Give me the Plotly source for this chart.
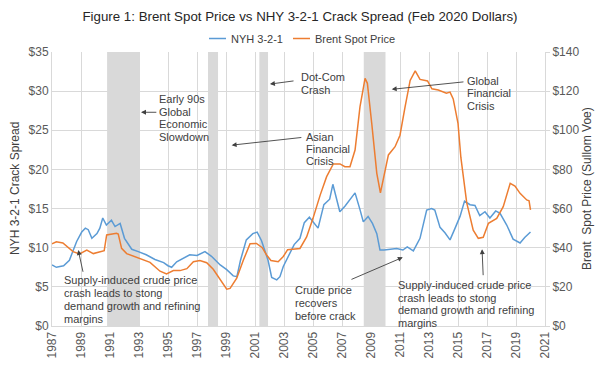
import plotly.graph_objects as go

# ---------------- data ----------------
nyh_years = [1987.0, 1987.3, 1987.8, 1988.2, 1988.7, 1989.05, 1989.3, 1989.5, 1989.75, 1990.1,
             1990.3, 1990.5, 1990.75, 1991.1, 1991.35, 1991.7, 1992.0, 1992.5, 1992.95, 1993.5,
             1994.1, 1994.7, 1995.0, 1995.25, 1995.6, 1996.05, 1996.5, 1997.0, 1997.55, 1998.0,
             1998.6, 1999.05, 1999.5, 1999.75, 2000.0, 2000.4, 2000.85, 2001.15, 2001.45, 2001.9,
             2002.15, 2002.5, 2002.72, 2002.95, 2003.35, 2003.7, 2004.1, 2004.4, 2004.75, 2005.05,
             2005.35, 2005.75, 2006.15, 2006.37, 2006.55, 2006.85, 2007.2, 2007.55, 2007.9, 2008.25,
             2008.47, 2008.8, 2009.1, 2009.4, 2009.62, 2009.9, 2010.4, 2010.77, 2011.2, 2011.5,
             2011.92, 2012.38, 2012.84, 2013.18, 2013.4, 2013.76, 2014.1, 2014.45, 2014.8, 2015.14,
             2015.45, 2015.83, 2016.17, 2016.5, 2016.86, 2017.2, 2017.6, 2017.9, 2018.36, 2018.8,
             2019.28, 2019.6, 2020.0]
nyh_values = [7.8, 7.5, 7.7, 8.4, 10.8, 12.0, 12.5, 12.3, 11.2, 11.8,
              12.5, 13.8, 12.9, 13.5, 12.7, 13.1, 11.2, 9.8, 9.5, 9.1,
              8.5, 8.1, 7.7, 7.5, 8.2, 8.6, 9.1, 9.0, 9.5, 8.9,
              7.8, 7.2, 6.4, 6.3, 8.4, 11.0, 11.8, 12.0, 10.9, 8.4,
              6.2, 5.9, 6.3, 7.6, 9.2, 10.4, 11.2, 13.2, 13.9, 13.2,
              12.5, 15.5, 16.2, 18.1, 16.9, 14.6, 15.3, 16.1, 17.0, 14.8,
              13.3, 14.0, 13.1, 11.8, 9.7, 9.7, 9.8, 9.9, 9.7, 10.1,
              9.6, 11.2, 14.8, 15.0, 14.8, 12.6, 11.9, 11.0, 12.5, 14.0,
              15.95, 15.5, 15.4, 14.1, 14.6, 13.8, 14.7, 14.4, 12.9, 11.1,
              10.6, 11.3, 12.0]

brent_years = [1987.0, 1987.3, 1987.75, 1988.45, 1988.9, 1989.4, 1989.85, 1990.3, 1990.6, 1990.77,
               1991.45, 1991.57, 1991.8, 1992.15, 1992.4, 1992.84, 1993.3, 1993.76, 1994.45, 1994.9,
               1995.37, 1995.83, 1996.3, 1996.75, 1997.2, 1997.67, 1998.12, 1998.59, 1999.05, 1999.28,
               1999.74, 2000.2, 2000.66, 2001.1, 2001.5, 2001.8, 2002.1, 2002.6, 2002.95, 2003.25,
               2004.1, 2004.56, 2005.0, 2005.5, 2005.94, 2006.4, 2006.86, 2007.2, 2007.55, 2007.9,
               2008.24, 2008.59, 2008.75, 2009.05, 2009.4, 2009.65, 2009.85, 2010.2, 2010.66, 2011.0,
               2011.35, 2011.7, 2012.05, 2012.38, 2012.9, 2013.2, 2013.64, 2014.2, 2014.45, 2014.67,
               2015.0, 2015.2, 2015.6, 2016.05, 2016.4, 2016.74, 2017.1, 2017.67, 2018.12, 2018.6,
               2018.93, 2019.28, 2019.74, 2019.9, 2020.0]
brent_values = [42, 43, 42.4, 38, 36.8, 38.8, 37, 38, 38.5, 46.5,
                47.4, 47, 39.7, 37, 36.3, 35, 33.7, 32.5, 28, 26.6,
                28.3, 28.3, 29.3, 32.8, 33.4, 32.3, 29, 23.5, 18.8, 19.2,
                24.4, 33.7, 42, 42.2, 40, 36.3, 33.5, 32.8, 35.5, 39,
                39.6, 45.5, 55, 67, 76.3, 82.8, 82.8, 81.4, 81.4, 89.9,
                112, 126.5, 124, 103.6, 78, 68, 74.6, 87.4, 91.6, 97.5,
                112, 125.5, 130.4, 126, 125.2, 121.2, 120.6, 119, 119.5, 116,
                103.6, 86, 63, 49, 44.8, 45.3, 52.5, 55, 61, 72.9,
                71.5, 67.8, 64.4, 64, 59.3]

recession_start = [1990.8, 1997.76, 2001.3, 2008.5]
recession_end = [1993.0, 1998.45, 2001.9, 2010.0]

year_ticks = list(range(1987, 2022, 2))
left_ticks = [0, 5, 10, 15, 20, 25, 30, 35]
right_ticks = [0, 20, 40, 60, 80, 100, 120, 140]
series_names = ["NYH 3-2-1", "Brent Spot Price"]

BLUE = "#5B9BD5"
ORANGE = "#ED7D31"
GRID = "#D9D9D9"
TXT = "#404040"
FONT = "Liberation Sans, Arial, sans-serif"

# plot-area geometry (pixels) for placing text
PL, PR, PT, PB = 52, 545, 52, 326


def px(x):
    return (x - PL) / (PR - PL)


def py(y):
    return (PB - y) / (PB - PT)


fig = go.Figure()
fig.add_trace(go.Scatter(x=nyh_years, y=nyh_values, mode="lines", name=series_names[0],
                         line=dict(color=BLUE, width=1.5), showlegend=False))
fig.add_trace(go.Scatter(x=brent_years, y=brent_values, mode="lines", name=series_names[1],
                         line=dict(color=ORANGE, width=1.5), yaxis="y2", showlegend=False))

for s, e in zip(recession_start, recession_end):
    fig.add_shape(type="rect", xref="x", yref="paper", x0=s, x1=e, y0=0, y1=1,
                  fillcolor=GRID, line=dict(width=0), layer="between")

annotations = []

# manual legend (short line samples, as in the reference)
LEG_Y = 38.5
for name, color, x0 in zip(series_names, [BLUE, ORANGE], [209, 293]):
    fig.add_shape(type="line", xref="paper", yref="paper", x0=px(x0), x1=px(x0 + 17),
                  y0=py(LEG_Y), y1=py(LEG_Y), line=dict(color=color, width=1.5))
    annotations.append(dict(text=name, xref="paper", yref="paper", x=px(x0 + 20), y=py(LEG_Y),
                            xanchor="left", yanchor="middle", showarrow=False,
                            font=dict(family=FONT, size=11, color=TXT)))


def add_text(lines, x_px, y_px_list):
    for line, yy in zip(lines, y_px_list):
        annotations.append(dict(text=line, xref="paper", yref="paper", x=px(x_px), y=py(yy),
                                xanchor="left", yanchor="middle", showarrow=False,
                                font=dict(family=FONT, size=11, color=TXT)))


def add_arrow(head, tail):
    annotations.append(dict(text="", xref="x", yref="y", axref="x", ayref="y",
                            x=head[0], y=head[1], ax=tail[0], ay=tail[1],
                            showarrow=True, arrowhead=2, arrowsize=1.1, arrowwidth=0.9,
                            arrowcolor=TXT, standoff=0, startstandoff=0))


add_text(["Early 90s", "Global", "Economic", "Slowdown"], 157, [99, 111.5, 124, 136.5])
add_arrow((1993.14, 27.3), (1994.3, 27.3))

add_text(["Asian", "Financial", "Crisis"], 304, [137, 149, 161])
add_arrow((1999.39, 23.1), (2004.3, 24.1))

add_text(["Dot-Com", "Crash"], 299, [77, 89.5])
add_arrow((2002.03, 30.9), (2003.76, 31.33))

add_text(["Global", "Financial", "Crisis"], 465, [81, 93.3, 105.6])
add_arrow((2010.43, 30.23), (2015.48, 31.2))

add_text(["Supply-induced crude price", "crash leads to stong", "demand growth and refining", "margins"],
         62, [280, 293, 306, 318.5])
add_arrow((1988.81, 9.7), (1989.16, 6.73))

add_text(["Crude price", "recovers", "before crack"], 292.5, [290, 303, 316])
add_arrow((2011.19, 8.77), (2007.55, 5.87))

add_text(["Supply-induced crude price", "crash leads to stong", "demand growth and refining", "margins"],
         396, [284.5, 297.5, 310, 322.5])
add_arrow((2016.66, 9.8), (2016.74, 6.3))

# axis titles
annotations.append(dict(text="NYH 3-2-1 Crack Spread", xref="paper", yref="paper",
                        x=px(15), y=py(189), textangle=-90, showarrow=False,
                        xanchor="center", yanchor="middle",
                        font=dict(family=FONT, size=12, color=TXT)))
annotations.append(dict(text="Brent  Spot Price (Sullom Voe)", xref="paper", yref="paper",
                        x=px(587), y=py(189), textangle=-90, showarrow=False,
                        xanchor="center", yanchor="middle",
                        font=dict(family=FONT, size=12, color=TXT)))

fig.update_layout(
    width=600, height=370,
    margin=dict(l=PL, r=600 - PR, t=PT, b=370 - PB, pad=0),
    paper_bgcolor="white", plot_bgcolor="white",
    font=dict(family=FONT, size=11, color="#595959"),
    title=dict(text="Figure 1: Brent Spot Price vs NHY 3-2-1 Crack Spread (Feb 2020 Dollars)",
               x=0.5, xanchor="center", y=1 - 16 / 370, yanchor="middle",
               font=dict(family=FONT, size=13.3, color="#262626")),
    showlegend=False,
    xaxis=dict(range=[1987, 2021], tickmode="array", tickvals=year_ticks,
               ticktext=[str(t) for t in year_ticks], tickangle=-90,
               showgrid=True, gridcolor=GRID, gridwidth=1, zeroline=False,
               showline=True, linecolor=GRID, linewidth=1, ticks="",
               tickfont=dict(family=FONT, size=12, color="#595959")),
    yaxis=dict(range=[0, 35], tickvals=left_ticks, ticktext=["$" + str(v) for v in left_ticks],
               showgrid=True, gridcolor=GRID, gridwidth=1, zeroline=False,
               showline=True, linecolor=GRID, linewidth=1, ticks="",
               tickfont=dict(family=FONT, size=12, color="#595959")),
    yaxis2=dict(range=[0, 140], tickvals=right_ticks, ticktext=["$" + str(v) for v in right_ticks],
                overlaying="y", side="right", showgrid=False, zeroline=False,
                showline=True, linecolor=GRID, linewidth=1, ticks="outside", ticklen=4,
                tickcolor=GRID,
                tickfont=dict(family=FONT, size=12, color="#595959")),
    annotations=annotations,
)

fig.write_html("out.html")
